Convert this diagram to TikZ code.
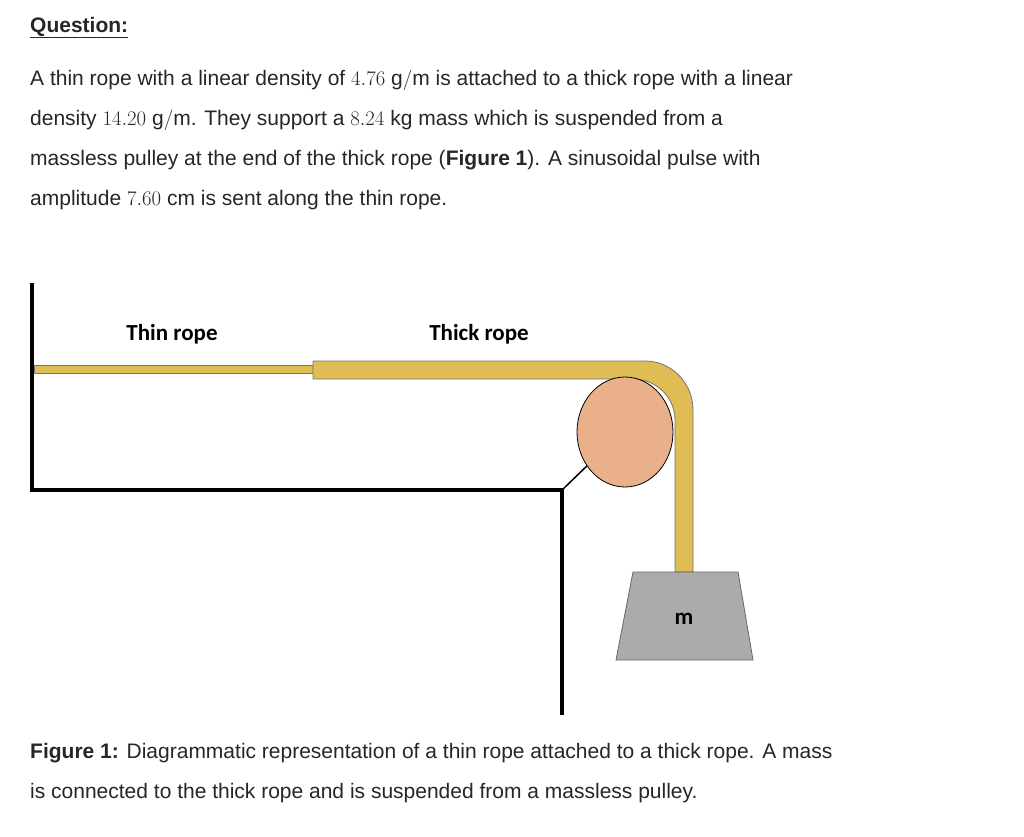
\documentclass[tikz,border=0pt]{standalone}
\usepackage{fontspec}
\usetikzlibrary{shapes.geometric}
\setmainfont{Liberation Sans}
\newfontfamily\lblfont{Carlito}
\definecolor{rope}{HTML}{E0BC55}
\definecolor{pul}{HTML}{EAB08A}
\definecolor{massc}{HTML}{ADABAA}
\begin{document}
\begin{tikzpicture}[x=1pt,y=-1pt,
  txt/.style={anchor=base west,inner sep=0pt,font=\fontsize{21}{24}\selectfont,text=black!85},
  lbl/.style={inner sep=0pt,font=\lblfont\bfseries\fontsize{23}{26}\selectfont},
  wall/.style={line width=3.5pt},
  ropeline/.style={fill=rope,draw=black!55,line width=0.8pt}]
\useasboundingbox (0,0) rectangle (1024,836);
\node[txt] (q) at (30,32) {\textbf{\underline{Question:}}};
\node[txt] (l1) at (30,85) {A thin rope with a linear density of $4.76\ \mathrm{g/m}$ is attached to a thick rope with a linear};
\node[txt] (l2) at (30,125) {density $14.20\ \mathrm{g/m}$. They support a $8.24\ \mathrm{kg}$ mass which is suspended from a};
\node[txt] (l3) at (30,165) {massless pulley at the end of the thick rope (\textbf{Figure 1}). A sinusoidal pulse with};
\node[txt] (l4) at (30,205) {amplitude $7.60\ \mathrm{cm}$ is sent along the thin rope.};
% wall
\draw[wall] (32,283) -- (32,490) -- (562,490) -- (562,715);
\draw[line width=1.5pt] (562,490) -- (591,462);
% ropes
\draw[ropeline] (34,365) rectangle (313,373);
\draw[ropeline] (313,361) -- (645,361) arc[start angle=-90,end angle=0,x radius=48,y radius=49] -- (693,572) -- (675,572) -- (675,420) arc[start angle=0,end angle=-90,x radius=42,y radius=41] -- (313,379) -- cycle;
\node[draw=black,line width=0.8pt,fill=pul,ellipse,minimum width=96,minimum height=110,inner sep=0pt] (pulley) at (625,432) {};
% mass
\draw[fill=massc,draw=black!60,line width=0.8pt] (633,572) -- (738,572) -- (753,660) -- (616,660) -- cycle;
\node[lbl] (m) at (684,619) {m};
\node[lbl] (thin) at (172,334) {Thin rope};
\node[lbl] (thick) at (479,334) {Thick rope};
\node[txt] (c1) at (30,758) {\textbf{Figure 1:} Diagrammatic representation of a thin rope attached to a thick rope. A mass};
\node[txt] (c2) at (30,798) {is connected to the thick rope and is suspended from a massless pulley.};
\end{tikzpicture}
\end{document}
